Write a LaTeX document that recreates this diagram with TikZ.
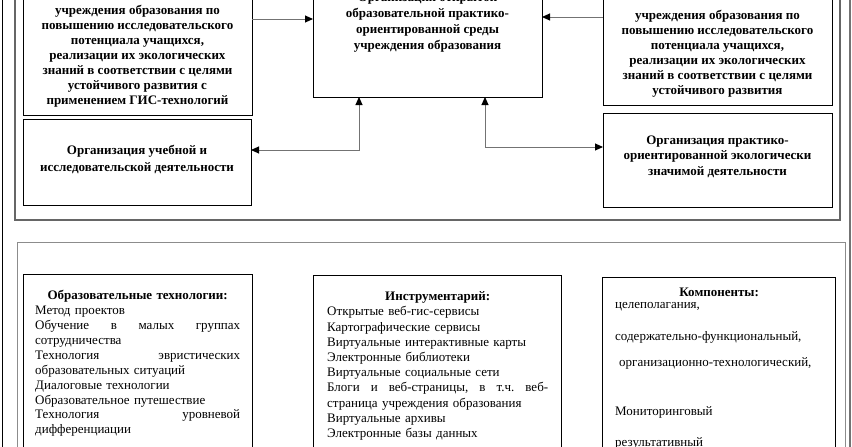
\documentclass[tikz,border=0pt]{standalone}
\usepackage{fontspec}
\setmainfont{Liberation Serif}
\usetikzlibrary{arrows.meta}
\tikzset{
  box/.style={draw=black, line width=0.8pt, inner sep=0pt, outer sep=0pt},
  ttxt/.style={font=\fontsize{13}{15.1}\selectfont\bfseries, align=center, inner sep=0pt, anchor=north},
  btxt/.style={font=\fontsize{13}{14.9}\selectfont, align=left, inner sep=0pt, anchor=north west},
  conn/.style={draw=black!55, line width=1pt, >={Triangle[length=8pt,width=7pt,color=black]}},
}
\newcommand{\jline}[1]{\makebox[\linewidth]{#1}}
\begin{document}
\begin{tikzpicture}[x=1pt,y=-1pt]
\useasboundingbox (0,0) rectangle (852,447);
\clip (0,0) rectangle (852,447);
\fill[white] (0,0) rectangle (852,447);
% frames
\draw[black, line width=1pt] (2,-10) -- (2,460);
\draw[black!55, line width=1.6pt] (850,-10) -- (850,460);
\draw[black!60, line width=2pt] (15,-10) rectangle (840,220);
\draw[black!45, line width=1pt] (17,242) rectangle (845,470);
% upper boxes
\node[box, minimum width=229pt, minimum height=155pt] (lt) at (137.5,37.5) {};
\node[box, minimum width=229pt, minimum height=137pt] (ctr) at (427.5,28.5) {};
\node[box, minimum width=229pt, minimum height=145pt] (rt) at (717.5,32.5) {};
\node[box, minimum width=228pt, minimum height=86pt] (ll) at (137,162) {};
\node[box, minimum width=229pt, minimum height=94pt] (lr) at (717.5,160) {};
% upper texts
\node[ttxt] (ltt) at (137.5,3.4) {\strut учреждения образования по\\ повышению исследовательского\\ потенциала учащихся,\\ реализации их экологических\\ знаний в соответствии с целями\\ устойчивого развития с\\ применением ГИС-технологий};
\node[ttxt, font=\fontsize{13}{16}\selectfont\bfseries] (ctrt) at (427.5,-9.7) {\strut Организация открытой\\ образовательной практико-\\ ориентированной среды\\ учреждения образования};
\node[ttxt, font=\fontsize{13}{15}\selectfont\bfseries] (rtt) at (717.5,8.9) {\strut учреждения образования по\\ повышению исследовательского\\ потенциала учащихся,\\ реализации их экологических\\ знаний в соответствии с целями\\ устойчивого развития};
\node[ttxt, font=\fontsize{13}{16.3}\selectfont\bfseries] (llt) at (137,143.1) {\strut Организация учебной и\\ исследовательской деятельности};
\node[ttxt, font=\fontsize{13}{15.5}\selectfont\bfseries] (lrt) at (717.5,133.1) {\strut Организация практико-\\ ориентированной экологически\\ значимой деятельности};
% connectors
\coordinate (y19) at (0,19);
\coordinate (y17) at (0,17);
\coordinate (y150) at (0,150);
\coordinate (y147) at (0,147);
\coordinate (x359) at (359,0);
\coordinate (x485) at (485,0);
\draw[conn,->] (lt.east |- y19) -- (ctr.west |- y19);
\draw[conn,->] (rt.west |- y17) -- (ctr.east |- y17);
\draw[conn,<->] (ll.east |- y150) -| (ctr.south -| x359);
\draw[conn,<->] (lr.west |- y147) -| (ctr.south -| x485);
% lower boxes
\node[box, minimum width=229pt, minimum height=206pt] (b1) at (137.5,377) {};
\node[box, minimum width=248pt, minimum height=205pt] (b2) at (437,377.5) {};
\node[box, minimum width=233pt, minimum height=203pt] (b3) at (718.5,378.5) {};
\node[btxt, text width=205pt] (b1t) at (35,289.1) {%
\jline{\strut\textbf{Образовательные технологии:}}\\
Метод проектов\\
\jline{Обучение\hfill в\hfill малых\hfill группах}\\
сотрудничества\\
\jline{Технология\hfill эвристических}\\
образовательных ситуаций\\
Диалоговые технологии\\
Образовательное путешествие\\
\jline{Технология\hfill уровневой}\\
дифференциации};
\node[btxt, text width=221pt, font=\fontsize{13}{15.2}\selectfont] (b2t) at (327,289.9) {%
\jline{\strut\textbf{Инструментарий:}}\\
Открытые веб-гис-сервисы\\
Картографические сервисы\\
Виртуальные интерактивные карты\\
Электронные библиотеки\\
Виртуальные социальные сети\\
\jline{Блоги\hfill и\hfill веб-страницы,\hfill в\hfill т.ч.\hfill веб-}\\
страница учреждения образования\\
Виртуальные архивы\\
Электронные базы данных};
\node[btxt, text width=208pt, font=\fontsize{13}{12.5}\selectfont] (b3t) at (615,287.25) {%
\jline{\strut\textbf{Компоненты:}}\\
целеполагания,\\[19.5pt]
содержательно-функциональный,\\[13.5pt]
\hspace*{4pt}организационно-технологический,\\[36.5pt]
Мониторинговый\\[18.5pt]
результативный};
\end{tikzpicture}
\end{document}
